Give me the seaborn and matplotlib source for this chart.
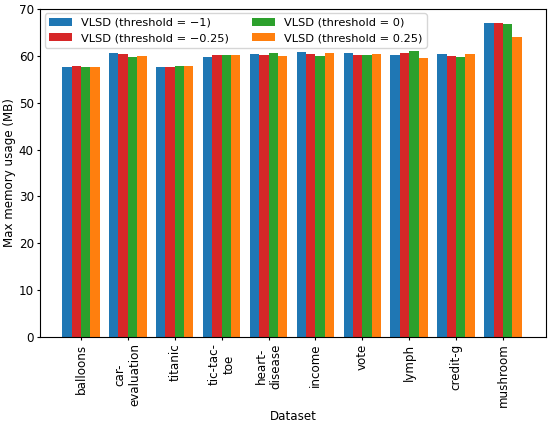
import pandas as pd
import matplotlib
matplotlib.use("Agg")
import matplotlib.pyplot as plt
import seaborn as sns

datasets = ["balloons", "car-\nevaluation", "titanic", "tic-tac-\ntoe", "heart-\ndisease",
            "income", "vote", "lymph", "credit-g", "mushroom"]
thresholds = ["VLSD (threshold = \u22121)", "VLSD (threshold = \u22120.25)",
              "VLSD (threshold = 0)", "VLSD (threshold = 0.25)"]

mem_m1 = [57.5, 60.5, 57.6, 59.7, 60.3, 60.8, 60.6, 60.1, 60.3, 66.9]
mem_m025 = [57.8, 60.3, 57.5, 60.2, 60.2, 60.3, 60.2, 60.5, 59.9, 66.9]
mem_0 = [57.5, 59.7, 57.8, 60.1, 60.5, 59.9, 60.2, 61.0, 59.7, 66.7]
mem_025 = [57.6, 60.0, 57.9, 60.2, 60.0, 60.5, 60.4, 59.6, 60.4, 64.0]

rows = []
for label, vals in zip(thresholds, [mem_m1, mem_m025, mem_0, mem_025]):
    for d, v in zip(datasets, vals):
        rows.append({"Dataset": d, "threshold": label, "mem": v})
df = pd.DataFrame(rows)

plt.rcParams["font.size"] = 8.6
plt.rcParams["xtick.major.size"] = 2.5
plt.rcParams["ytick.major.size"] = 2.5
plt.rcParams["xtick.major.pad"] = 2
plt.rcParams["ytick.major.pad"] = 2
palette = ["#1f77b4", "#d62728", "#2ca02c", "#ff7f0e"]

fig, ax = plt.subplots(figsize=(5.5, 4.23), dpi=100)
sns.barplot(data=df, x="Dataset", y="mem", hue="threshold", hue_order=thresholds,
            palette=palette, width=0.8, saturation=1, ax=ax)
ax.set_xlim(-0.87, 9.92)
ax.set_ylim(0, 70)
ax.set_xlabel("Dataset", labelpad=2)
ax.set_ylabel("Max memory usage (MB)", labelpad=2)
ax.tick_params(axis="x", rotation=90)
ax.legend(ncol=2, loc="upper left", title=None, fontsize=8.2, labelspacing=0.45,
          columnspacing=2.0, borderaxespad=0.4)
fig.subplots_adjust(left=0.073, right=0.993, top=0.979, bottom=0.203)
fig.savefig("out.png")
